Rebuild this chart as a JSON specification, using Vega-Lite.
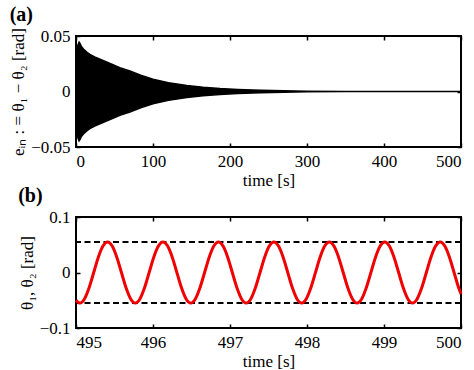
{
  "$schema": "https://vega.github.io/schema/vega-lite/v6.json",
  "padding": {"left": 8, "top": 4, "right": 5, "bottom": 0},
  "bounds": "flush",
  "spacing": 70,
  "config": {
    "view": {"stroke": "black", "strokeWidth": 2},
    "font": "Liberation Serif",
    "axis": {
      "labelFont": "Liberation Serif", "labelFontSize": 17, "labelColor": "black",
      "titleFont": "Liberation Serif", "titleFontSize": 17, "titleFontWeight": "normal", "titleColor": "black",
      "grid": false, "domain": false, "tickColor": "black", "tickWidth": 1.5, "tickSize": -4
    },
    "axisX": {"labelPadding": 10, "titlePadding": 3},
    "axisY": {"labelPadding": 10, "titlePadding": 3},
    "title": {"font": "Liberation Serif", "fontSize": 20, "fontWeight": "bold", "anchor": "start", "frame": "bounds", "offset": 2, "color": "black"}
  },
  "datasets": {
    "env": [
      {"t": 0, "upper": 0.028, "lower": -0.028},
      {"t": 1, "upper": 0.036, "lower": -0.036},
      {"t": 2.5, "upper": 0.042, "lower": -0.042},
      {"t": 4, "upper": 0.0445, "lower": -0.0445},
      {"t": 5.5, "upper": 0.043, "lower": -0.043},
      {"t": 7, "upper": 0.0405, "lower": -0.0405},
      {"t": 10, "upper": 0.038, "lower": -0.038},
      {"t": 14, "upper": 0.0355, "lower": -0.0355},
      {"t": 18, "upper": 0.0335, "lower": -0.0335},
      {"t": 25, "upper": 0.031, "lower": -0.031},
      {"t": 35, "upper": 0.028, "lower": -0.028},
      {"t": 45, "upper": 0.025, "lower": -0.025},
      {"t": 57, "upper": 0.0215, "lower": -0.0215},
      {"t": 70, "upper": 0.0185, "lower": -0.0185},
      {"t": 85, "upper": 0.0145, "lower": -0.0145},
      {"t": 100, "upper": 0.011, "lower": -0.011},
      {"t": 120, "upper": 0.008, "lower": -0.008},
      {"t": 144, "upper": 0.0055, "lower": -0.0055},
      {"t": 165, "upper": 0.0038, "lower": -0.0038},
      {"t": 187, "upper": 0.0026, "lower": -0.0026},
      {"t": 210, "upper": 0.0018, "lower": -0.0018},
      {"t": 240, "upper": 0.0011, "lower": -0.0011},
      {"t": 270, "upper": 0.0006, "lower": -0.0006},
      {"t": 300, "upper": 0.0003, "lower": -0.0003},
      {"t": 350, "upper": 0.0001, "lower": -0.0001},
      {"t": 400, "upper": 0, "lower": 0},
      {"t": 500, "upper": 0, "lower": 0}
    ],
    "bounds": [{"y": 0.055}, {"y": -0.055}],
    "theta": [
      {"t": 495.0, "y": -0.0498},
      {"t": 495.05, "y": -0.055}, {"t": 495.11, "y": -0.0476}, {"t": 495.17, "y": -0.0275}, {"t": 495.23, "y": 0},
      {"t": 495.29, "y": 0.0275}, {"t": 495.35, "y": 0.0476}, {"t": 495.41, "y": 0.055}, {"t": 495.47, "y": 0.0476},
      {"t": 495.53, "y": 0.0275}, {"t": 495.59, "y": 0}, {"t": 495.65, "y": -0.0275}, {"t": 495.71, "y": -0.0476},
      {"t": 495.77, "y": -0.055}, {"t": 495.83, "y": -0.0476}, {"t": 495.89, "y": -0.0275}, {"t": 495.95, "y": 0},
      {"t": 496.01, "y": 0.0275}, {"t": 496.07, "y": 0.0476}, {"t": 496.13, "y": 0.055}, {"t": 496.19, "y": 0.0476},
      {"t": 496.25, "y": 0.0275}, {"t": 496.31, "y": 0}, {"t": 496.37, "y": -0.0275}, {"t": 496.43, "y": -0.0476},
      {"t": 496.49, "y": -0.055}, {"t": 496.55, "y": -0.0476}, {"t": 496.61, "y": -0.0275}, {"t": 496.67, "y": 0},
      {"t": 496.73, "y": 0.0275}, {"t": 496.79, "y": 0.0476}, {"t": 496.85, "y": 0.055}, {"t": 496.91, "y": 0.0476},
      {"t": 496.97, "y": 0.0275}, {"t": 497.03, "y": 0}, {"t": 497.09, "y": -0.0275}, {"t": 497.15, "y": -0.0476},
      {"t": 497.21, "y": -0.055}, {"t": 497.27, "y": -0.0476}, {"t": 497.33, "y": -0.0275}, {"t": 497.39, "y": 0},
      {"t": 497.45, "y": 0.0275}, {"t": 497.51, "y": 0.0476}, {"t": 497.57, "y": 0.055}, {"t": 497.63, "y": 0.0476},
      {"t": 497.69, "y": 0.0275}, {"t": 497.75, "y": 0}, {"t": 497.81, "y": -0.0275}, {"t": 497.87, "y": -0.0476},
      {"t": 497.93, "y": -0.055}, {"t": 497.99, "y": -0.0476}, {"t": 498.05, "y": -0.0275}, {"t": 498.11, "y": 0},
      {"t": 498.17, "y": 0.0275}, {"t": 498.23, "y": 0.0476}, {"t": 498.29, "y": 0.055}, {"t": 498.35, "y": 0.0476},
      {"t": 498.41, "y": 0.0275}, {"t": 498.47, "y": 0}, {"t": 498.53, "y": -0.0275}, {"t": 498.59, "y": -0.0476},
      {"t": 498.65, "y": -0.055}, {"t": 498.71, "y": -0.0476}, {"t": 498.77, "y": -0.0275}, {"t": 498.83, "y": 0},
      {"t": 498.89, "y": 0.0275}, {"t": 498.95, "y": 0.0476}, {"t": 499.01, "y": 0.055}, {"t": 499.07, "y": 0.0476},
      {"t": 499.13, "y": 0.0275}, {"t": 499.19, "y": 0}, {"t": 499.25, "y": -0.0275}, {"t": 499.31, "y": -0.0476},
      {"t": 499.37, "y": -0.055}, {"t": 499.43, "y": -0.0476}, {"t": 499.49, "y": -0.0275}, {"t": 499.55, "y": 0},
      {"t": 499.61, "y": 0.0275}, {"t": 499.67, "y": 0.0476}, {"t": 499.73, "y": 0.055}, {"t": 499.79, "y": 0.0476},
      {"t": 499.85, "y": 0.0275}, {"t": 499.91, "y": 0}, {"t": 499.97, "y": -0.0275}, {"t": 500.0, "y": -0.0389}
    ]
  },
  "vconcat": [
    {
      "title": "(a)",
      "width": 385,
      "height": 111,
      "data": {"name": "env"},
      "layer": [
        {
          "mark": {"type": "area", "color": "black", "stroke": "black", "strokeWidth": 1.5},
          "encoding": {
            "x": {"field": "t", "type": "quantitative", "scale": {"domain": [0, 500], "nice": false, "zero": false},
                  "axis": {"values": [0, 100, 200, 300, 400, 500], "title": "time [s]"}},
            "y": {"field": "upper", "type": "quantitative", "scale": {"domain": [-0.05, 0.05], "nice": false},
                  "axis": {"values": [-0.05, 0, 0.05], "format": "~g", "title": "eᵢₙ : = θ₁ − θ₂ [rad]"}},
            "y2": {"field": "lower"}
          }
        },
        {
          "mark": {"type": "line", "opacity": 0},
          "encoding": {
            "x": {"field": "t", "type": "quantitative",
                  "axis": {"orient": "top", "values": [0, 100, 200, 300, 400, 500], "labels": false, "title": null}},
            "y": {"field": "upper", "type": "quantitative",
                  "axis": {"orient": "right", "values": [-0.05, 0, 0.05], "labels": false, "title": null}}
          }
        }
      ],
      "resolve": {"axis": {"x": "independent", "y": "independent"}}
    },
    {
      "title": "(b)",
      "width": 385,
      "height": 111,
      "layer": [
        {
          "data": {"name": "bounds"},
          "mark": {"type": "rule", "color": "black", "strokeWidth": 2, "strokeDash": [6, 3.5]},
          "encoding": {
            "y": {"field": "y", "type": "quantitative", "axis": null}
          }
        },
        {
          "data": {"name": "theta"},
          "mark": {"type": "line", "color": "#f00000", "strokeWidth": 3, "interpolate": "monotone"},
          "encoding": {
            "x": {"field": "t", "type": "quantitative", "scale": {"domain": [495, 500], "nice": false, "zero": false},
                  "axis": {"values": [495, 496, 497, 498, 499, 500], "title": "time [s]"}},
            "y": {"field": "y", "type": "quantitative", "scale": {"domain": [-0.1, 0.1], "nice": false},
                  "axis": {"values": [-0.1, 0, 0.1], "format": "~g", "title": "θ₁, θ₂ [rad]"}}
          }
        },
        {
          "data": {"name": "theta"},
          "mark": {"type": "line", "opacity": 0},
          "encoding": {
            "x": {"field": "t", "type": "quantitative",
                  "axis": {"orient": "top", "values": [495, 496, 497, 498, 499, 500], "labels": false, "title": null}},
            "y": {"field": "y", "type": "quantitative",
                  "axis": {"orient": "right", "values": [-0.1, 0, 0.1], "labels": false, "title": null}}
          }
        }
      ],
      "resolve": {"axis": {"x": "independent", "y": "independent"}}
    }
  ]
}
